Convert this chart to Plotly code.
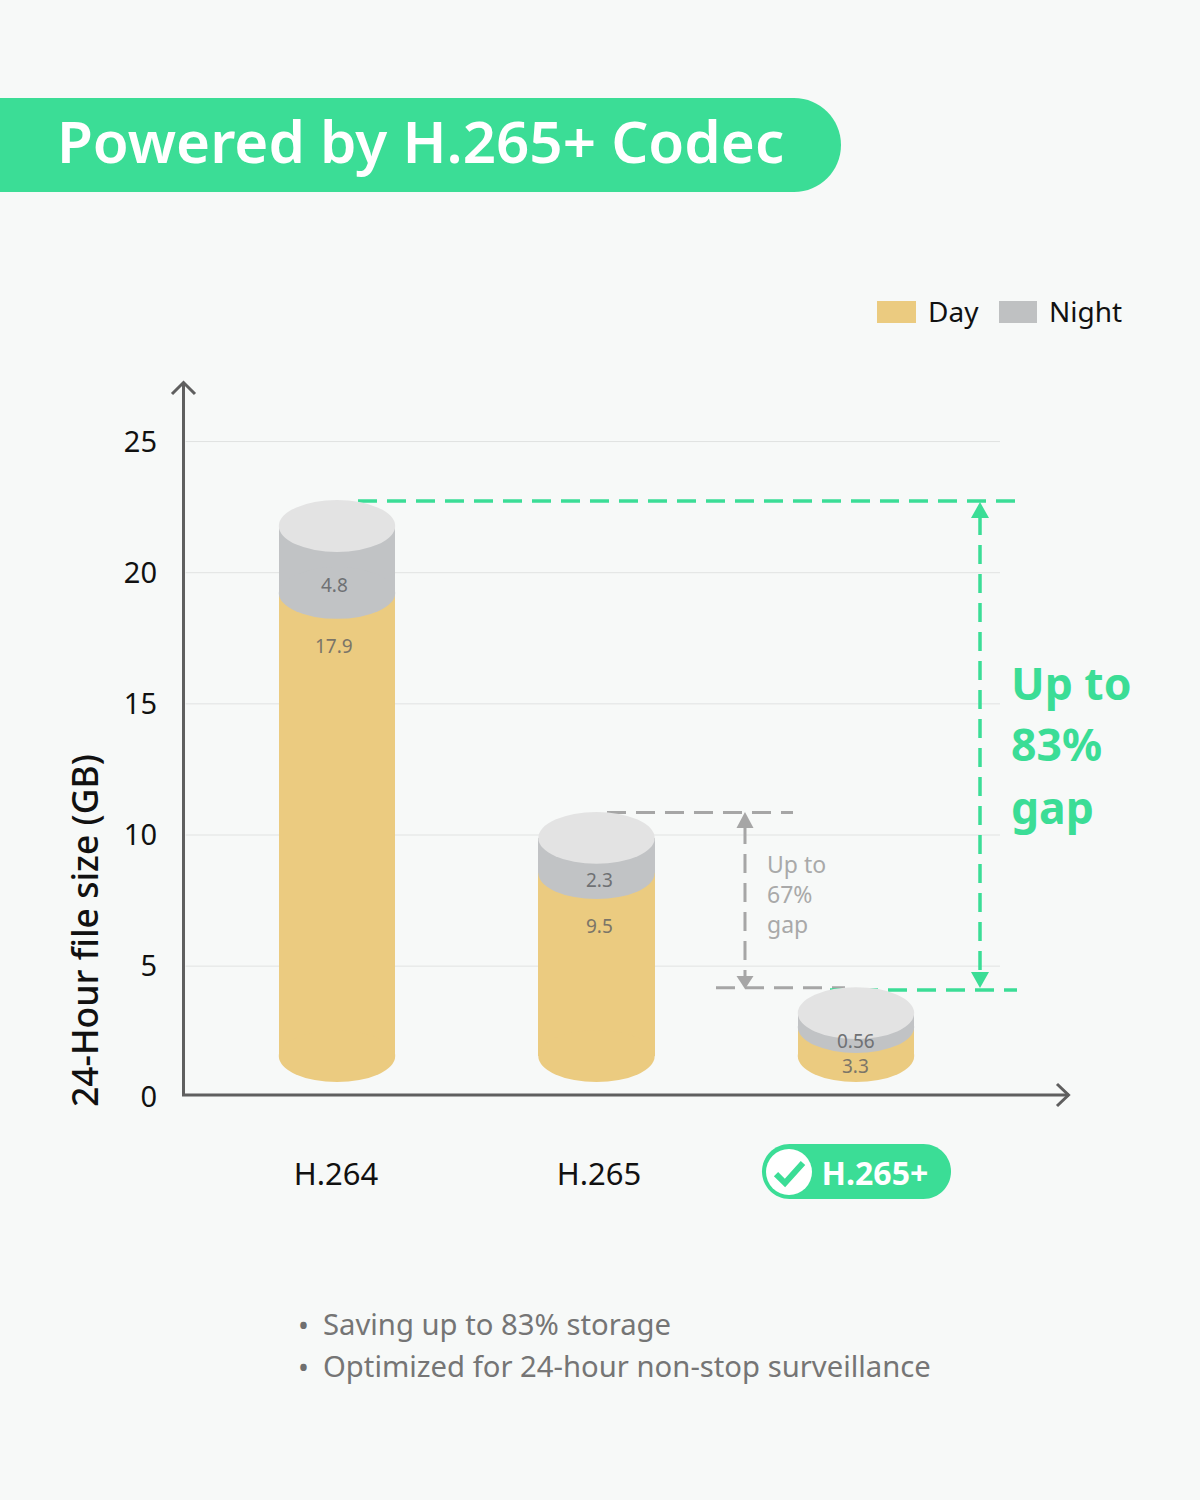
import plotly.graph_objects as go

# ---- data ----
categories = ["H.264", "H.265", "H.265+"]
day_values = [17.9, 9.5, 3.3]
night_values = [4.8, 2.3, 0.56]
# drawn levels of the cylinders (GB)
drawn_base = [1.57, 1.57, 1.57]
drawn_day_top = [19.23, 8.55, 2.68]
drawn_top = [21.78, 9.89, 3.21]
# where the value labels sit, in y-axis units
night_label_y = [19.53, 8.28, 2.15]
day_label_y = [17.2, 6.53, 1.2]
night_label_x = [-0.01, 0.01, 0.0]
y_ticks = [0, 5, 10, 15, 20, 25]
grid_values = [5, 10, 15, 20, 25]
gap_big = ["Up to", "83%", "gap"]
gap_small = ["Up to", "67%", "gap"]
notes = ["Saving up to 83% storage", "Optimized for 24-hour non-stop surveillance"]
title_text = "Powered by H.265+ Codec"
y_title = "24-Hour file size (GB)"
x_pos = [0, 1, 2]
x_label_pos = [-0.004, 1.01, 2.073]

# ---- styles ----
BG = "#f7f9f8"
GREEN = "#3bdd96"
YELLOW = "#ebcb80"
GREY = "#c1c3c5"
TOP = "#e3e3e3"
AXIS = "#5f5f5f"
DASH_GREY = "#a6a6a6"
FONT = "Noto Sans"
BAR_W = 0.4486
RY = 0.99


def X(px):
    return px / 1200


def Y(py):
    return 1 - py / 1500


def path(points, close=False):
    s = "M " + " L ".join(f"{X(a):.5f},{Y(b):.5f}" for a, b in points)
    return s + (" Z" if close else "")


def line_shape(points, color, width, dash=None, layer="above"):
    ln = dict(color=color, width=width)
    if dash:
        ln["dash"] = dash
    return dict(type="path", xref="paper", yref="paper", path=path(points), line=ln, layer=layer)


def tri(points, color):
    return dict(type="path", xref="paper", yref="paper", path=path(points, True),
                fillcolor=color, line=dict(width=0))


def round_rect(x0, y0, x1, y1, rl, rr, color, layer="above"):
    k = 0.5523
    s = f"M {X(x0 + rl):.5f},{Y(y0):.5f} L {X(x1 - rr):.5f},{Y(y0):.5f} "
    if rr:
        s += (f"C {X(x1 - rr + k * rr):.5f},{Y(y0):.5f} {X(x1):.5f},{Y(y0 + rr - k * rr):.5f} {X(x1):.5f},{Y(y0 + rr):.5f} "
              f"L {X(x1):.5f},{Y(y1 - rr):.5f} "
              f"C {X(x1):.5f},{Y(y1 - rr + k * rr):.5f} {X(x1 - rr + k * rr):.5f},{Y(y1):.5f} {X(x1 - rr):.5f},{Y(y1):.5f} ")
    s += f"L {X(x0 + rl):.5f},{Y(y1):.5f} "
    if rl:
        s += (f"C {X(x0 + rl - k * rl):.5f},{Y(y1):.5f} {X(x0):.5f},{Y(y1 - rl + k * rl):.5f} {X(x0):.5f},{Y(y1 - rl):.5f} "
              f"L {X(x0):.5f},{Y(y0 + rl):.5f} "
              f"C {X(x0):.5f},{Y(y0 + rl - k * rl):.5f} {X(x0 + rl - k * rl):.5f},{Y(y0):.5f} {X(x0 + rl):.5f},{Y(y0):.5f} ")
    return dict(type="path", xref="paper", yref="paper", path=s + "Z", fillcolor=color, line=dict(width=0), layer=layer)


def text(px, py, t, size, color, anchor="left", weight=None, angle=None):
    f = dict(family=FONT, size=size, color=color)
    if weight:
        f["weight"] = weight
    a = dict(xref="paper", yref="paper", x=X(px), y=Y(py), text=t, showarrow=False,
             xanchor=anchor, yanchor="middle", align="left", font=f, borderpad=0)
    if angle is not None:
        a["textangle"] = angle
    return a


def ellipse(cx, cy, color):
    return dict(type="circle", xref="x", yref="y", x0=cx - BAR_W / 2, x1=cx + BAR_W / 2,
                y0=cy - RY, y1=cy + RY, fillcolor=color, line=dict(width=0))


fig = go.Figure()
fig.add_bar(x=x_pos, y=[t - b for t, b in zip(drawn_day_top, drawn_base)], base=drawn_base,
            width=BAR_W, marker=dict(color=YELLOW, line=dict(width=0)), name="Day",
            customdata=day_values, showlegend=False, hoverinfo="skip")
fig.add_bar(x=x_pos, y=[t - b for t, b in zip(drawn_top, drawn_day_top)], base=drawn_day_top,
            width=BAR_W, marker=dict(color=GREY, line=dict(width=0)), name="Night",
            customdata=night_values, showlegend=False, hoverinfo="skip")

shapes = []
# grid
for v in grid_values:
    shapes.append(dict(type="line", xref="x domain", yref="y", x0=0.002, x1=1, y0=v, y1=v,
                       line=dict(color="#e1e3e2", width=1), layer="below"))
# title pill and category pill (below the tick labels)
shapes.append(round_rect(0, 98, 841, 192, 0, 47, GREEN))
shapes.append(round_rect(762, 1144, 951, 1199, 27.5, 27.5, GREEN, layer="below"))
shapes.append(dict(type="circle", xref="paper", yref="paper", x0=X(766), x1=X(812), y0=Y(1195), y1=Y(1149),
                   fillcolor="white", line=dict(width=0)))
shapes.append(line_shape([(776, 1174), (785, 1183), (803, 1163)], GREEN, 6))
# axes
shapes.append(line_shape([(183.5, 382), (183.5, 1095), (1069, 1095)], AXIS, 3))
shapes.append(line_shape([(172, 394), (183.5, 382.5), (195, 394)], AXIS, 3))
shapes.append(line_shape([(1057, 1084), (1068.5, 1095), (1057, 1106)], AXIS, 3))
# legend swatches
shapes.append(dict(type="rect", xref="paper", yref="paper", x0=X(877), x1=X(916), y0=Y(323), y1=Y(301),
                   fillcolor=YELLOW, line=dict(width=0)))
shapes.append(dict(type="rect", xref="paper", yref="paper", x0=X(999), x1=X(1037), y0=Y(323), y1=Y(301),
                   fillcolor="#bfc1c2", line=dict(width=0)))
# gap guides
G_DASH = "19px,10px"
shapes.append(line_shape([(607, 812.5), (793, 812.5)], DASH_GREY, 3, G_DASH))
shapes.append(line_shape([(716, 987.7), (845, 987.7)], DASH_GREY, 3, G_DASH))
shapes.append(line_shape([(745, 825), (745, 978)], DASH_GREY, 3, G_DASH))
shapes.append(tri([(745, 812), (736.5, 828), (753.5, 828)], DASH_GREY))
shapes.append(tri([(745, 989), (736.5, 976), (753.5, 976)], DASH_GREY))
shapes.append(line_shape([(358, 501), (1017, 501)], GREEN, 3.5, G_DASH))
shapes.append(line_shape([(830, 990), (1017, 990)], GREEN, 3.5, G_DASH))
shapes.append(line_shape([(980, 516), (980, 975)], GREEN, 3.5, G_DASH))
shapes.append(tri([(980, 502), (971, 518), (989, 518)], GREEN))
shapes.append(tri([(980, 988), (971, 972), (989, 972)], GREEN))
# cylinder caps
for i, c in enumerate(x_pos):
    shapes.append(ellipse(c, drawn_base[i], YELLOW))
    shapes.append(ellipse(c, drawn_day_top[i], GREY))
    shapes.append(ellipse(c, drawn_top[i], TOP))

ann = []
ann.append(text(56, 141, title_text, 58.3, "white", weight=600))
ann.append(text(84, 931, y_title, 35.5, "#111111", "center", weight=500, angle=-90))
ann.append(text(927, 311, "Day", 28, "#111111"))
ann.append(text(1048, 311, "Night", 28, "#111111"))
for t, py in zip(gap_big, [682, 743, 806]):
    ann.append(text(1010, py, t, 44.5, GREEN, weight=700))
ann.append(text(766, 894, "<br>".join(gap_small), 23, "#a9a9a9"))
for t, py in zip(notes, [1324, 1366]):
    ann.append(text(297, py, "•", 29, "#6f6f6f"))
    ann.append(text(322, py, t, 29.25, "#757575"))
for i, c in enumerate(x_pos):
    ann.append(dict(xref="x", yref="y", x=c + night_label_x[i], y=night_label_y[i], text=str(night_values[i]),
                    showarrow=False, font=dict(family=FONT, size=19, color="#6f7174"), xanchor="center", yanchor="middle"))
    ann.append(dict(xref="x", yref="y", x=c + night_label_x[i], y=day_label_y[i], text=str(day_values[i]),
                    showarrow=False, font=dict(family=FONT, size=19, color="#7b7568"), xanchor="center", yanchor="middle"))

ticktext = [categories[0], categories[1],
            f'<span style="color:white;font-size:32px"><b>{categories[2]}</b></span>']

fig.update_layout(
    width=1200, height=1500, autosize=False,
    margin=dict(l=0, r=0, t=0, b=0, autoexpand=False),
    paper_bgcolor=BG, plot_bgcolor="rgba(0,0,0,0)",
    barmode="overlay", bargap=0, showlegend=False,
    font=dict(family=FONT),
    shapes=shapes, annotations=ann,
    xaxis=dict(domain=[X(184), X(1000)], range=[-0.5896, 2.555], tickmode="array",
               tickvals=x_label_pos, ticktext=ticktext, showgrid=False, zeroline=False, showline=False,
               ticks="", ticklabelstandoff=56, tickfont=dict(family=FONT, size=31, color="#111111")),
    yaxis=dict(domain=[Y(1097.3), Y(382)], range=[0, 27.27], tickmode="array", tickvals=y_ticks,
               showgrid=False, zeroline=False, showline=False, ticks="", ticklabelstandoff=26,
               tickfont=dict(family=FONT, size=29, color="#111111")),
)

fig.write_html("out.html", config={"displayModeBar": False},
               post_script="document.body.style.margin='0';document.body.style.background='%s';document.documentElement.style.overflow='hidden';" % BG)
